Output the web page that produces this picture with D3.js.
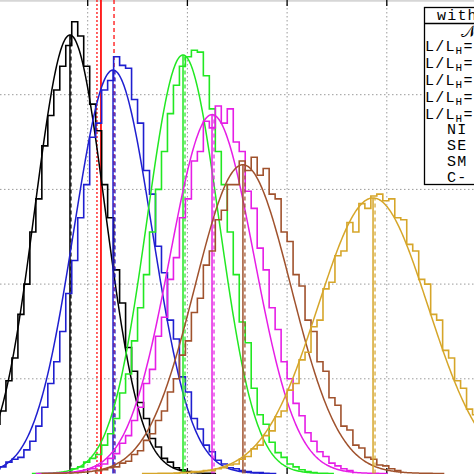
<!DOCTYPE html>
<html><head><meta charset="utf-8">
<script src="https://cdn.jsdelivr.net/npm/d3@7"></script>
<style>html,body{margin:0;padding:0;background:#fff;overflow:hidden}</style>
</head><body><svg id="c" width="474" height="474"></svg>
<script>
// ---------- data ----------
const xTicks = [1, 2, 3, 4];
const yTicks = [1, 2, 3, 4];
const binWidth = 0.06;
const seriesColors = ["#000000", "#1f1fd0", "#22e822", "#e61ee6", "#a0522d", "#d6a62a"];
// Gaussian fit parameters
const fitMeans  = [0.822, 1.254, 1.956, 2.247, 2.557, 3.862];
const fitSigmas = [0.351, 0.391, 0.361, 0.421, 0.481, 0.552];
const fitPeaks  = [4.63, 4.26, 4.42, 3.79, 3.26, 2.91];
// histogram means (dashed verticals)
const histMeans = [0.832, 1.274, 1.976, 2.267, 2.577, 3.882];
// histogram first-bin left edges
const histStarts = [0.0, 0.0, 0.84, 0.90, 1.08, 1.86];
const histBlack = [0.33,0.52,0.66,0.98,1.22,1.68,2.00,2.55,2.90,3.46,3.78,4.05,4.30,4.52,4.77,4.62,4.30,3.90,3.62,3.05,2.70,2.15,1.80,1.33,1.08,0.75,0.58,0.37,0.28,0.16,0.12,0.06,0.04,0.02];
const histBlue = [0.03,0.05,0.07,0.12,0.15,0.17,0.25,0.34,0.50,0.70,0.95,1.18,1.50,1.90,2.25,2.70,3.05,3.55,3.70,4.05,4.15,4.40,4.31,4.28,3.95,3.70,3.20,2.95,2.40,2.12,1.62,1.42,1.02,0.86,0.58,0.47,0.30,0.23,0.14,0.10,0.06,0.05,0.03,0.02,0.01,0.01];
const histGreen = [0.05,0.07,0.12,0.16,0.20,0.30,0.42,0.58,0.85,1.05,1.40,1.75,2.10,2.55,3.00,3.40,3.80,4.10,4.30,4.40,4.47,4.45,4.20,3.85,3.40,3.05,2.55,2.10,1.60,1.38,0.90,0.62,0.52,0.33,0.22,0.17,0.10,0.07,0.04,0.02,0.01];
const histMagenta = [0.02,0.04,0.05,0.08,0.10,0.16,0.21,0.32,0.40,0.56,0.70,0.95,1.10,1.45,1.65,2.05,2.28,2.70,2.90,3.30,3.40,3.72,3.65,3.88,3.70,3.85,3.50,3.40,2.98,2.80,2.38,2.15,1.75,1.52,1.18,1.00,0.74,0.61,0.43,0.34,0.23,0.18,0.11,0.08,0.05,0.03];
const histBrown = [0.03,0.04,0.06,0.07,0.11,0.13,0.20,0.24,0.35,0.42,0.56,0.66,0.86,1.00,1.25,1.40,1.70,1.85,2.20,2.35,2.68,2.78,3.05,3.05,3.30,3.20,3.34,3.15,3.22,2.95,2.90,2.55,2.45,2.10,1.98,1.62,1.50,1.18,1.08,0.80,0.72,0.50,0.46,0.30,0.27,0.17,0.15,0.09,0.08,0.05,0.03];
const histGold = [0.00,0.01,0.01,0.02,0.02,0.03,0.03,0.05,0.06,0.09,0.10,0.15,0.18,0.26,0.30,0.40,0.45,0.60,0.66,0.88,0.95,1.20,1.28,1.55,1.62,1.95,2.02,2.30,2.35,2.65,2.55,2.85,2.80,2.93,2.95,2.88,2.90,2.70,2.68,2.42,2.35,2.05,2.00,1.68,1.62,1.30,1.22,0.98,0.90,0.68,0.62];
const histograms = [histBlack, histBlue, histGreen, histMagenta, histBrown, histGold];
// red reference lines
const refX = [1.093, 1.133, 1.264];
const refDash = ["2,2", null, "4,3"];
// legend texts: the visible part of each entry (the rest lies beyond the picture edge)
const legendHeader = "with";
const legendSymbol = "\u{1D4A9}";
const legendLRows = 5;
const legendOther = ["NI", "SE", "SM", "C-"];

// ---------- drawing ----------
const W = 474, H = 474;
const svg = d3.select("#c");
const x = d3.scaleLinear().domain([0, 5]).range([-12, 486.5]);
const y = d3.scaleLinear().domain([0, 5]).range([473.5, 0]);

svg.append("defs").append("clipPath").attr("id", "pc")
  .append("rect").attr("x", 0).attr("y", 0).attr("width", W).attr("height", H);
const g = svg.append("g").attr("clip-path", "url(#pc)");

// grid
g.selectAll(".gx").data(xTicks).join("line")
  .attr("x1", d => x(d)).attr("x2", d => x(d)).attr("y1", 0).attr("y2", H)
  .attr("stroke", "#9a9a9a").attr("stroke-width", 1).attr("stroke-dasharray", "1.5,2.5");
g.selectAll(".gy").data(yTicks).join("line")
  .attr("x1", 0).attr("x2", W).attr("y1", d => y(d)).attr("y2", d => y(d))
  .attr("stroke", "#9a9a9a").attr("stroke-width", 1).attr("stroke-dasharray", "1.5,2.5");

// top border & ticks
g.append("line").attr("x1", 0).attr("x2", W).attr("y1", 0.8).attr("y2", 0.8)
  .attr("stroke", "#d6d6d6").attr("stroke-width", 2);
g.selectAll(".tt").data(xTicks).join("line")
  .attr("x1", d => x(d)).attr("x2", d => x(d)).attr("y1", 0).attr("y2", 6)
  .attr("stroke", "#000").attr("stroke-width", 1.3);
g.selectAll(".tb").data(xTicks).join("line")
  .attr("x1", d => x(d)).attr("x2", d => x(d)).attr("y1", H - 6).attr("y2", H)
  .attr("stroke", "#000").attr("stroke-width", 1.3);

// red reference lines
refX.forEach((v, i) => {
  g.append("line").attr("x1", x(v)).attr("x2", x(v)).attr("y1", 0).attr("y2", H)
    .attr("stroke", "#ff1010").attr("stroke-width", i === 1 ? 1.8 : 1.3)
    .attr("stroke-dasharray", refDash[i]);
});

const stepLine = d3.line().x(d => x(d[0])).y(d => y(d[1]));
const curveLine = d3.line().x(d => x(d[0])).y(d => y(d[1]));

histograms.forEach((h, s) => {
  const col = seriesColors[s];
  const pts = [];
  const x0 = histStarts[s];
  pts.push([x0, 0]);
  h.forEach((v, k) => {
    pts.push([x0 + k * binWidth, v]);
    pts.push([x0 + (k + 1) * binWidth, v]);
  });
  pts.push([x0 + h.length * binWidth, 0]);
  g.append("path").attr("d", stepLine(pts)).attr("fill", "none")
    .attr("stroke", col).attr("stroke-width", 1.6);
  const m = fitMeans[s], sd = fitSigmas[s], A = fitPeaks[s];
  const cpts = d3.range(m - 4.2 * sd, m + 4.2 * sd, 0.01)
    .map(t => [t, A * Math.exp(-((t - m) ** 2) / (2 * sd * sd))]);
  g.append("path").attr("d", curveLine(cpts)).attr("fill", "none")
    .attr("stroke", col).attr("stroke-width", 1.5);
  g.append("line").attr("x1", x(m)).attr("x2", x(m)).attr("y1", y(0)).attr("y2", y(A))
    .attr("stroke", col).attr("stroke-width", 1.5);
  g.append("line").attr("x1", x(histMeans[s])).attr("x2", x(histMeans[s]))
    .attr("y1", y(0)).attr("y2", y(A))
    .attr("stroke", col).attr("stroke-width", 1.5).attr("stroke-dasharray", "4,3")
    .attr("opacity", 0.8);
});

// legend
const lg = g.append("g");
lg.append("rect").attr("x", 424.5).attr("y", 7.5).attr("width", 80).attr("height", 177)
  .attr("fill", "#fff").attr("stroke", "#000").attr("stroke-width", 1.3);
lg.append("line").attr("x1", 424.5).attr("x2", 500).attr("y1", 23.5).attr("y2", 23.5)
  .attr("stroke", "#000").attr("stroke-width", 1.3);
const font = "'Liberation Mono', 'DejaVu Sans Mono', monospace";
lg.append("text").attr("x", 437).attr("y", 20).attr("font-family", font)
  .attr("font-size", 15).attr("letter-spacing", 1.2).text(legendHeader);
lg.append("text").attr("x", 461).attr("y", 37).attr("font-family", "'DejaVu Serif', serif")
  .attr("font-size", 16).text(legendSymbol);
d3.range(legendLRows).forEach(i => {
  const t = lg.append("text").attr("x", 425).attr("y", 51 + i * 17)
    .attr("font-family", font).attr("font-size", 15).attr("letter-spacing", 1.2);
  t.append("tspan").text("L/L");
  t.append("tspan").attr("font-size", 11).attr("dy", 3).text("H");
  t.append("tspan").attr("dy", -3).text("=");
});
legendOther.forEach((v, i) => {
  lg.append("text").attr("x", 447).attr("y", 134 + i * 16)
    .attr("font-family", font).attr("font-size", 15).attr("letter-spacing", 1.2).text(v);
});
</script>
</body></html>
